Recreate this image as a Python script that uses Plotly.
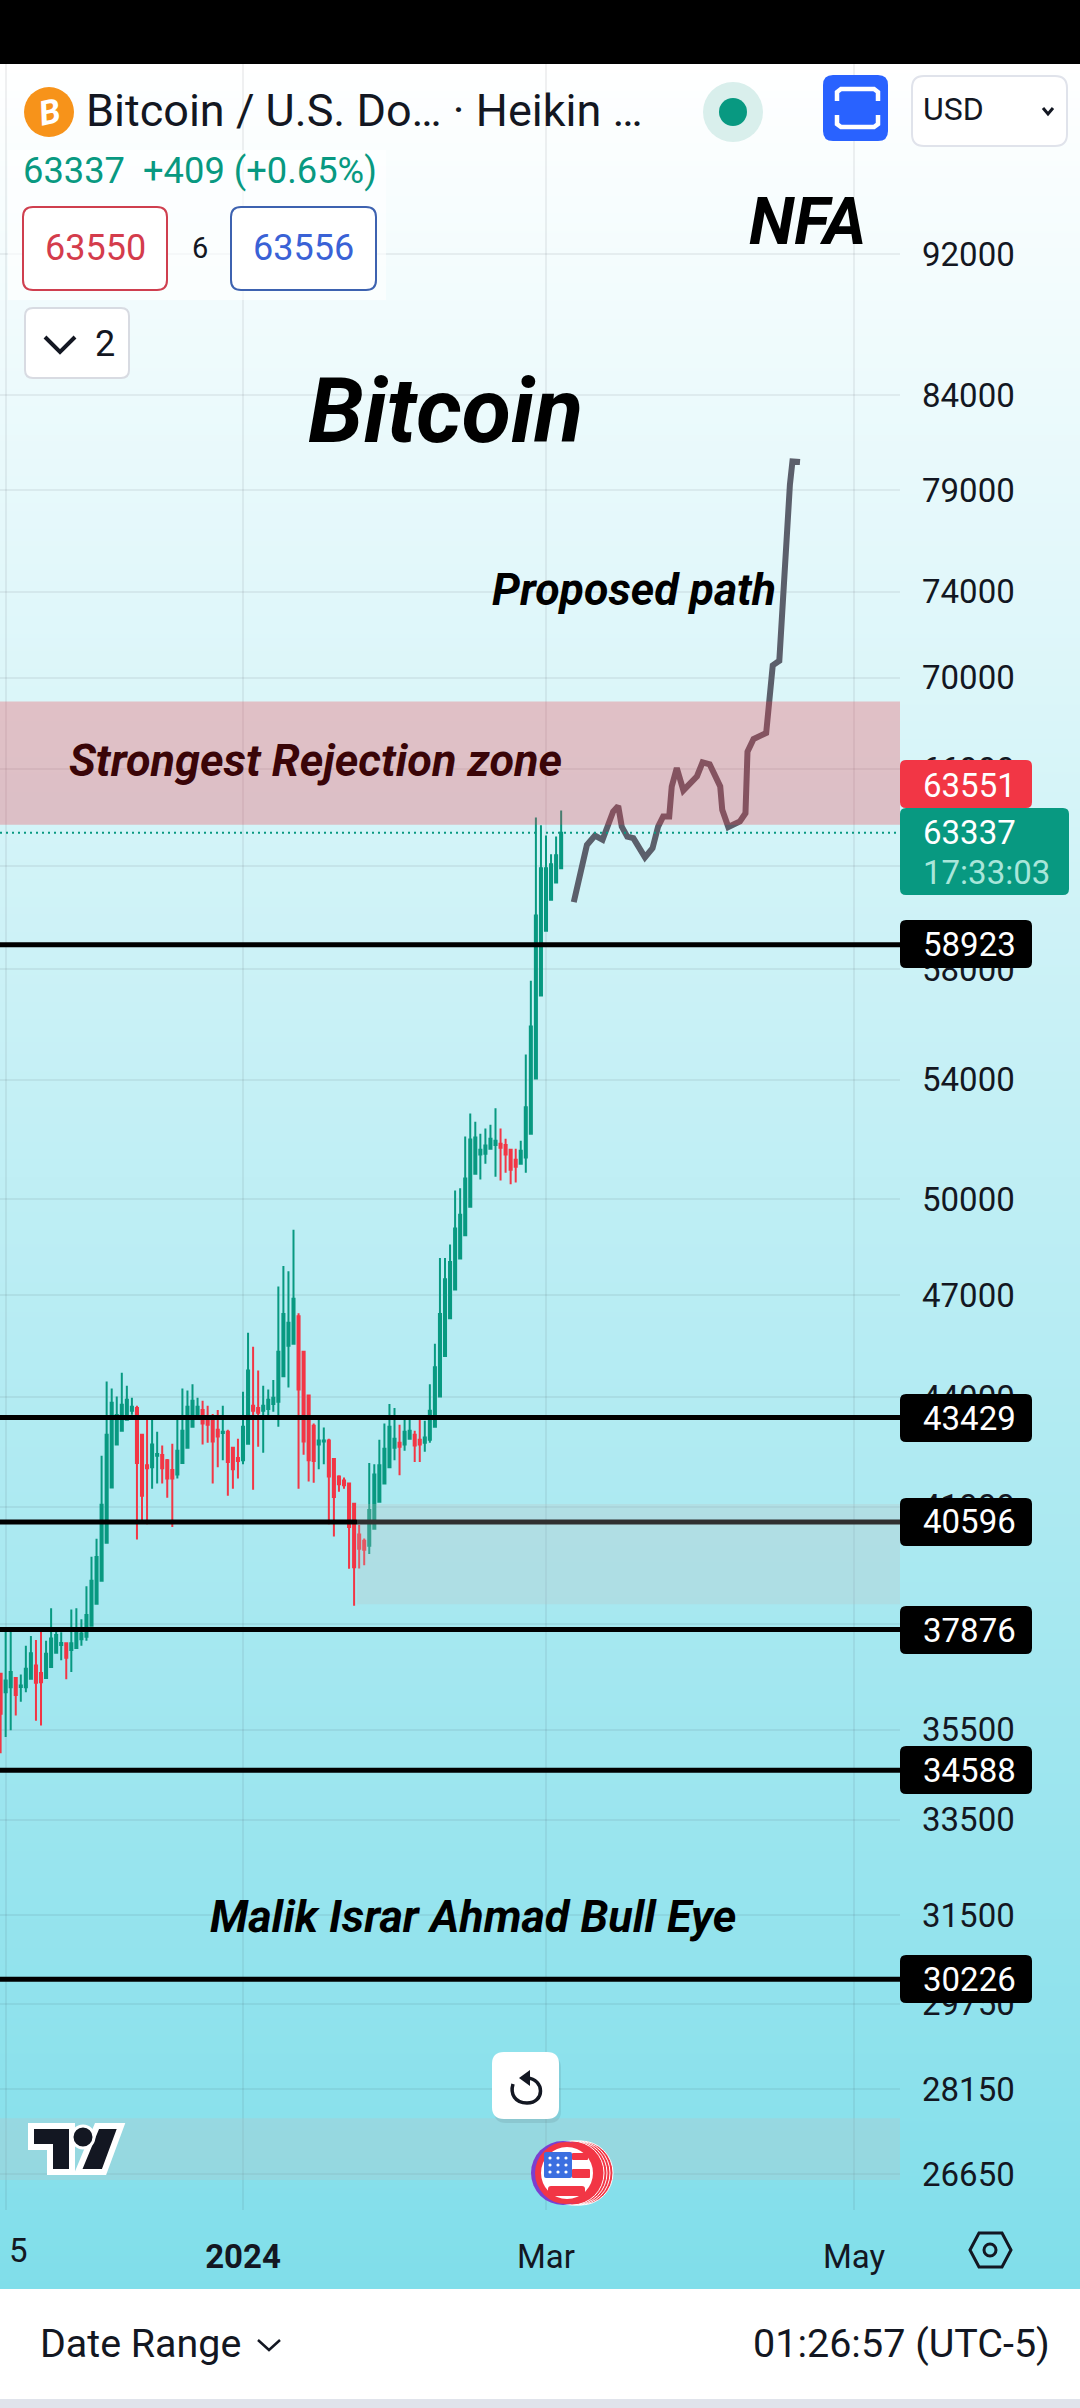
import plotly.graph_objects as go

W, H = 1080, 2408

# days counted from 2024-01-01, daily Heikin Ashi candles
candle_days = list(range(-48, 64))
opens = [36810, 36375, 36490, 36710, 36500, 36490, 36690, 37010, 36830, 36710, 36970, 37310, 37500, 37540, 37380, 37430,
         37640, 37700, 37970, 38510, 39090, 40060, 41510, 42680, 43060, 43370, 43620, 43700, 42950, 42110, 42060, 42370,
         42390, 42250, 41980, 41860, 42170, 42590, 43170, 43500, 43640, 43440, 43370, 43090, 43000, 43030, 42590, 42310,
         42250, 42700, 43760, 43700, 43620, 43670, 43810, 43870, 44600, 45490, 45550, 46360, 45310, 44050, 43200, 42680,
         42760, 42790, 42280, 41810, 41700, 41620, 41080, 40270, 40110, 39980, 40420, 41130, 41620, 42060, 42590, 42730,
         42680, 42840, 42950, 42810, 42730, 42810, 43170, 44020, 45190, 46300, 47170, 48120, 48850, 49760, 50830, 51460,
         51490, 51650, 51780, 51820, 51780, 51620, 51290, 51160, 51360, 52160, 54050, 57020, 59460, 60660, 61340, 61900]
highs = [36810, 37930, 37930, 36730, 36790, 37480, 37720, 37620, 37820, 37600, 38400, 37870, 37810, 37540, 38370, 38400,
         38130, 38950, 39700, 40160, 42370, 44450, 44250, 44020, 44700, 44330, 43990, 43760, 42950, 43400, 43370, 43030,
         42650, 42280, 42700, 43430, 44250, 44190, 44370, 43990, 43900, 43760, 43530, 43640, 43760, 43090, 42620, 42840,
         44160, 45870, 45460, 44770, 44330, 44220, 44490, 47260, 47890, 47730, 49020, 46450, 45310, 44050, 43260, 43500,
         43150, 42840, 42280, 41840, 41780, 41640, 41080, 40520, 40170, 42170, 42140, 42810, 43260, 43810, 43700, 43230,
         43430, 43460, 43060, 43480, 43340, 44370, 45550, 48140, 48140, 48560, 50280, 50350, 52060, 52840, 52560, 52160,
         52330, 52460, 53020, 52330, 51990, 51650, 51650, 51920, 54890, 57570, 63960, 63640, 63220, 62460, 63180, 64250]
lows = [34970, 35340, 35490, 35830, 36150, 36375, 36690, 35710, 35600, 36710, 36970, 37290, 37130, 36680, 36850, 37430,
        37480, 37600, 37970, 38510, 39090, 40060, 41510, 42680, 43060, 43370, 43510, 40140, 40590, 40540, 41480, 41620,
        41620, 41240, 40470, 41750, 42170, 42590, 43170, 43370, 42680, 42730, 41620, 42060, 42250, 41290, 41480, 41750,
        42140, 42700, 41450, 42620, 42450, 43430, 43590, 43170, 44600, 44280, 45550, 41480, 42400, 41670, 41640, 42000,
        42140, 40540, 40220, 41400, 41480, 39390, 38460, 39400, 39480, 39770, 40420, 41130, 41620, 42060, 42250, 41840,
        42510, 42840, 42200, 42200, 42480, 42730, 43170, 44020, 45190, 46300, 47170, 48120, 48850, 49760, 50830, 50640,
        51160, 51650, 50730, 50610, 50860, 50480, 50540, 51160, 50860, 52160, 54050, 57020, 59460, 60660, 61340, 61900]
closes = [35870, 36650, 36850, 36310, 36530, 36930, 37300, 36600, 36610, 37290, 37660, 37740, 37550, 37190, 37540, 37890,
          37780, 38230, 39090, 39690, 41050, 42950, 43845, 43500, 43790, 43930, 43730, 42170, 41290, 42030, 42680, 42420,
          42030, 41750, 41750, 42510, 43060, 43730, 43900, 43730, 43260, 43230, 42760, 42900, 43030, 42200, 42000, 42230,
          43170, 44770, 43620, 43560, 43760, 43930, 43990, 45310, 46430, 46170, 46890, 44220, 42760, 42250, 42230, 42790,
          42790, 41810, 41260, 41600, 41570, 40470, 39430, 39900, 39880, 40910, 41860, 42110, 42560, 43170, 42840, 42620,
          43030, 43060, 42650, 42680, 42870, 43620, 44860, 46430, 47480, 48010, 49060, 49500, 50670, 51960, 52030, 51620,
          51760, 51990, 51920, 51690, 51460, 50960, 51060, 51590, 53060, 55890, 60040, 61900, 61900, 62060, 62420, 63337]

# hand drawn "proposed path"
path_days = [65.5, 68.1, 69.7, 71.2, 73.3, 74.3, 75.0, 76.1, 77.3, 79.6, 81.1, 82.2, 83.2, 84.4, 84.9, 85.9, 87.2,
             89.9, 91.0, 92.4, 94.5, 94.9, 96.1, 98.4, 99.5, 99.9, 101.1, 103.6, 104.9, 106.2, 108.3, 108.8, 110.3]
path_prices = [60565, 62840, 63220, 63050, 64210, 64440, 63590, 63180, 63120, 62340, 62710, 63590, 64010, 64010, 65260,
               66040, 65090, 65690, 66280, 66200, 65260, 64280, 63570, 63800, 64140, 66740, 67290, 67550, 70560, 70770,
               79290, 80490, 80460]

price_ticks = [92000, 84000, 79000, 74000, 70000, 66000, 62000, 58000, 54000, 50000, 47000, 44000, 41000, 38000,
               35500, 33500, 31500, 29750, 28150, 26650]
time_ticks = [-47, 0, 60, 121]
time_labels = ["", "<b>2024</b>", "Mar", "May"]

level_prices = [58923, 43429, 40596, 37876, 34588, 30226]
level_labels = ["58923", "43429", "40596", "37876", "34588", "30226"]
level_label_y = [944, 1418, 1522, 1630, 1770, 1979]

INK = "#131722"
GREEN = "#089981"
RED = "#f23645"
GREY_ZONE = "rgba(190,190,190,0.25)"


def px(x):
    return x / W


def py(y):
    return 1 - y / H


def box(x0, y0, x1, y1, r=0, fill=None, line=None, lw=0):
    # rounded rectangle given in screen pixels
    a, b, c, d = px(x0), py(y0), px(x1), py(y1)
    rx, ry = r / W, r / H
    path = (f"M{a + rx},{b} L{c - rx},{b} Q{c},{b} {c},{b - ry} L{c},{d + ry} Q{c},{d} {c - rx},{d} "
            f"L{a + rx},{d} Q{a},{d} {a},{d + ry} L{a},{b - ry} Q{a},{b} {a + rx},{b} Z")
    return dict(type="path", path=path, xref="paper", yref="paper", layer="above", fillcolor=fill,
                line=dict(color=line or "rgba(0,0,0,0)", width=lw))


def poly(points, fill=None, line=None, lw=0, closed=True):
    path = "M" + " L".join(f"{px(x)},{py(y)}" for x, y in points) + (" Z" if closed else "")
    return dict(type="path", path=path, xref="paper", yref="paper", layer="above",
                fillcolor=fill if closed else "rgba(0,0,0,0)",
                line=dict(color=line or "rgba(0,0,0,0)", width=lw))


def circle(cx, cy, r, fill, line=None, lw=0):
    return dict(type="circle", xref="paper", yref="paper", layer="above", x0=px(cx - r), x1=px(cx + r),
                y0=py(cy + r), y1=py(cy - r), fillcolor=fill, line=dict(color=line or "rgba(0,0,0,0)", width=lw))


def label(x, y, text, size, color=INK, anchor="left", angle=0):
    return dict(x=px(x), y=py(y), xref="paper", yref="paper", text=text, showarrow=False, xanchor=anchor,
                yanchor="middle", textangle=angle, borderpad=0, font=dict(family="Roboto", size=size, color=color))


fig = go.Figure()

# background gradient sits on its own axes under the chart
fig.add_trace(go.Heatmap(z=[[0, 0], [1, 1]], x=[0, 1], y=[0, 1], zmin=0, zmax=1, zsmooth="best", showscale=False,
                         colorscale=[[0, "#ffffff"], [1, "#80deea"]], hoverinfo="skip", xaxis="x", yaxis="y"))

fig.add_trace(go.Candlestick(x=candle_days, open=opens, high=highs, low=lows, close=closes, xaxis="x2", yaxis="y2",
                             increasing=dict(line=dict(color=GREEN, width=2), fillcolor=GREEN),
                             decreasing=dict(line=dict(color=RED, width=2), fillcolor=RED),
                             showlegend=False, hoverinfo="skip"))

fig.add_trace(go.Scatter(x=path_days, y=path_prices, mode="lines", xaxis="x2", yaxis="y2", showlegend=False,
                         line=dict(color="#5b5f6b", width=6), hoverinfo="skip"))

shapes = []
# screen chrome above and below the chart
shapes.append(box(0, 0, W, 64, fill="#000000"))
shapes.append(box(0, 2289, W, 2399, fill="#ffffff"))
shapes.append(box(0, 2399, W, H, fill="#e0e3eb"))

for p in level_prices:
    shapes.append(dict(type="line", xref="paper", yref="y2", x0=0, x1=900 / W, y0=p, y1=p, layer="above",
                       line=dict(color="#000000", width=5)))

# drawn zones
shapes.append(dict(type="rect", xref="paper", yref="y2", x0=0, x1=900 / W, y0=63670, y1=68940, layer="above",
                   fillcolor="rgba(242,54,69,0.28)", line=dict(width=0)))
shapes.append(dict(type="rect", xref="paper", yref="y2", x0=357 / W, x1=900 / W, y0=38500, y1=41070, layer="above",
                   fillcolor=GREY_ZONE, line=dict(width=0)))
shapes.append(dict(type="rect", xref="paper", yref="y2", x0=0, x1=900 / W, y0=26550, y1=27630, layer="above",
                   fillcolor=GREY_ZONE, line=dict(width=0)))
shapes.append(dict(type="line", xref="paper", yref="y2", x0=0, x1=898 / W, y0=closes[-1], y1=closes[-1], layer="above",
                   line=dict(color=GREEN, width=2, dash="2px,4px")))

# price badges
shapes.append(box(900, 760, 1032, 808, 6, RED))
shapes.append(box(900, 808, 1069, 895, 6, GREEN))
for y in level_label_y:
    shapes.append(box(900, y - 24, 1032, y + 24, 6, "#000000"))

# header
shapes.append(box(8, 150, 386, 300, 0, "rgba(255,255,255,0.6)"))
shapes.append(circle(49, 112, 25, "#f7931a"))
shapes.append(circle(733, 112, 30, "#d9efec"))
shapes.append(circle(733, 112, 14, GREEN))
shapes.append(box(823, 75, 888, 141, 10, "#2962ff"))
shapes.append(poly([(837, 101), (837, 92), (841, 89), (874, 89), (878, 92), (878, 101)], line="#ffffff", lw=4.5, closed=False))
shapes.append(poly([(837, 115), (837, 124), (841, 127), (874, 127), (878, 124), (878, 115)], line="#ffffff", lw=4.5, closed=False))
shapes.append(box(912, 76, 1067, 146, 12, "#ffffff", "#e0e3eb", 2))
shapes.append(poly([(1043, 108), (1048, 114), (1053, 108)], line=INK, lw=3, closed=False))
shapes.append(box(23, 207, 167, 290, 10, "#ffffff", "#cf3f4f", 2))
shapes.append(box(231, 207, 376, 290, 10, "#ffffff", "#3d62b0", 2))
shapes.append(box(25, 308, 129, 378, 8, "#ffffff", "#d8dbe2", 2))
shapes.append(poly([(45, 337), (60, 352), (75, 337)], line=INK, lw=4, closed=False))

# TradingView mark
logo_t = [(31, 2126), (72, 2126), (72, 2172), (50, 2172), (50, 2147), (31, 2147)]
logo_slash = [(97, 2126), (121, 2126), (104, 2172), (78, 2172)]
shapes.append(poly(logo_t, fill=INK, line="#ffffff", lw=6))
shapes.append(poly(logo_slash, fill=INK, line="#ffffff", lw=6))
shapes.append(circle(83, 2137, 11, INK, "#ffffff", 3))

# replay button
shapes.append(box(494, 2056, 561, 2123, 12, "rgba(60,80,90,0.12)"))
shapes.append(box(492, 2052, 559, 2119, 12, "#ffffff"))
shapes.append(dict(type="path", xref="paper", yref="paper", layer="above", fillcolor="rgba(0,0,0,0)",
                   path=f"M{px(527)},{py(2078)} C{px(545)},{py(2079)} {px(545)},{py(2103)} {px(527)},{py(2103)} "
                        f"C{px(515)},{py(2103)} {px(510)},{py(2094)} {px(513)},{py(2084)}",
                   line=dict(color=INK, width=3.5)))
shapes.append(poly([(530, 2070), (530, 2086), (519, 2078)], fill=INK))

# events flag
for cx in [581, 578, 575, 572]:
    shapes.append(circle(cx, 2173, 32, RED, "#ffffff", 1))
shapes.append(circle(563, 2173, 32, "#7b3fd0"))
shapes.append(circle(566, 2173, 31, RED))
shapes.append(circle(567, 2173, 26, "#ffffff"))
shapes.append(box(544, 2152, 572, 2178, 2, "#3b6fe0"))
for sx in [550, 558, 566]:
    for sy in [2158, 2165, 2172]:
        shapes.append(circle(sx, sy, 1.6, "#ffffff"))
shapes.append(box(572, 2153, 588, 2160, 1, RED))
shapes.append(box(572, 2169, 590, 2178, 1, RED))
shapes.append(box(548, 2186, 585, 2196, 3, RED))

# settings hexagon
shapes.append(poly([(970, 2250), (979, 2233), (1002, 2233), (1011, 2250), (1002, 2267), (979, 2267)], line=INK, lw=3))
shapes.append(circle(990, 2250, 6, "rgba(0,0,0,0)", INK, 3))

# footer chevron
shapes.append(poly([(258, 2340), (269, 2350), (280, 2340)], line=INK, lw=2.5, closed=False))

notes = [
    label(49, 112, "<b><i>B</i></b>", 34, "#ffffff", "center", -12),
    label(85, 111, "Bitcoin / U.S. Do… · Heikin …", 45),
    label(922, 109, "USD", 32),
    label(22, 171, "63337  +409 (+0.65%)", 36.3, GREEN),
    label(95, 248, "63550", 36, "#d43c4c", "center"),
    label(200, 248, "6", 29, INK, "center"),
    label(303, 248, "63556", 36, "#3a62d6", "center"),
    label(105, 344, "2", 36, INK, "center"),
    label(748, 221, "<b><i>NFA</i></b>", 66, "#000000"),
    label(307, 412, "<b><i>Bitcoin</i></b>", 90, "#000000"),
    label(491, 590, "<b><i>Proposed path</i></b>", 44.7, "#000000"),
    label(68, 761, "<b><i>Strongest Rejection zone</i></b>", 45, "#3a0508"),
    label(209, 1916, "<b><i>Malik Israr Ahmad Bull Eye</i></b>", 45, "#000000"),
    label(922, 785, "63551", 33, "#ffffff"),
    label(922, 833, "63337", 33, "#ffffff"),
    label(922, 872, "17:33:03", 33, "#a8e6da"),
    label(8, 2250, "5", 33),
    label(39, 2343, "Date Range", 39.4),
    label(1051, 2343, "01:26:57 (UTC-5)", 39.5, INK, "right"),
]
for text, y in zip(level_labels, level_label_y):
    notes.append(label(922, y, text, 33, "#ffffff"))

GRID = "rgba(42,46,57,0.07)"
fig.update_layout(
    width=W, height=H, margin=dict(l=0, r=0, t=0, b=0, pad=0), showlegend=False,
    paper_bgcolor="#ffffff", plot_bgcolor="rgba(0,0,0,0)", boxgap=0.42,
    shapes=shapes, annotations=notes,
    font=dict(family="Roboto", color=INK),
    xaxis=dict(domain=[0, 1], range=[0, 1], visible=False, fixedrange=True, automargin=False),
    yaxis=dict(domain=[py(2289), py(64)], range=[1, 0], visible=False, fixedrange=True, automargin=False),
    xaxis2=dict(domain=[0, 900 / W], range=[-48.12, 130.1], anchor="y2", tickmode="array", tickvals=time_ticks,
                ticktext=time_labels, tickfont=dict(family="Roboto", size=33, color=INK), showgrid=True,
                gridcolor=GRID, gridwidth=2, zeroline=False, showline=False, ticks="", ticklabelstandoff=24,
                ticklabeloverflow="allow", rangeslider=dict(visible=False), fixedrange=True, automargin=False),
    yaxis2=dict(domain=[py(2210), py(64)], type="log", range=[4.41569, 5.0171], anchor="x2", side="right",
                tickmode="array", tickvals=price_ticks, ticktext=[str(t) for t in price_ticks],
                tickfont=dict(family="Roboto", size=33, color=INK), showgrid=True, gridcolor=GRID, gridwidth=2,
                zeroline=False, showline=False, ticks="", ticklabelstandoff=21, fixedrange=True, automargin=False),
)

fig.write_html("out.html", config=dict(displayModeBar=False), post_script="document.body.style.margin='0';")
